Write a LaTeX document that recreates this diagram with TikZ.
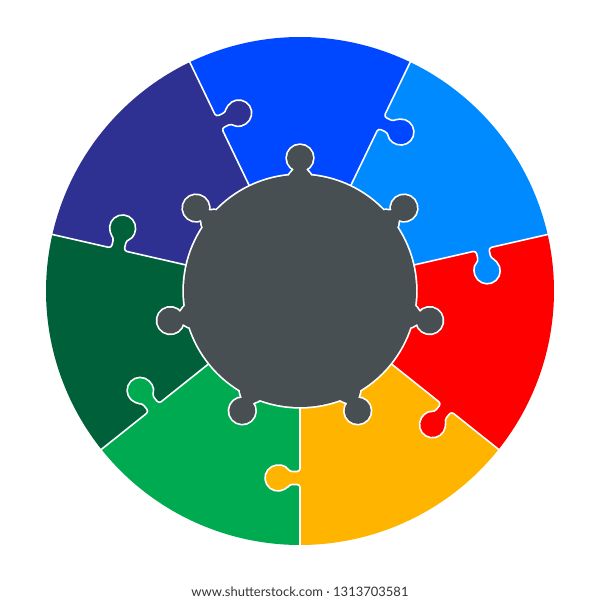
\documentclass[tikz,border=0pt]{standalone}
\usepackage{fontspec}
\setmainfont{Lato}
\usepackage{xcolor}

\definecolor{pzlightblue}{RGB}{0,138,255}
\definecolor{pzblue}{RGB}{0,72,255}
\definecolor{pznavy}{RGB}{46,49,146}
\definecolor{pzdarkgreen}{RGB}{0,96,57}
\definecolor{pzgreen}{RGB}{0,170,80}
\definecolor{pzyellow}{RGB}{255,180,0}
\definecolor{pzred}{RGB}{255,0,0}
\definecolor{hubgray}{RGB}{72,79,83}

\begin{document}
\begin{tikzpicture}[x=1pt,y=1pt,
        tab/.style={rounded corners=3pt},
        seam/.style={draw=white,line width=1.6pt,rounded corners=3pt,line join=round},
        hubrim/.style={draw=white,line width=3.4pt,line join=round},
        hub/.style={fill=hubgray}]

        \useasboundingbox (0,0) rectangle (600,604);
        \coordinate (O) at (300,313);

        % wedges of the ring
        \foreach \a/\col in {12.857/pzlightblue, 64.286/pzblue, 115.714/pznavy,
                167.143/pzdarkgreen, 218.571/pzgreen, 270/pzyellow, 321.429/pzred}
                \fill[\col] (O) -- ++(\a:254) arc[start angle=\a, delta angle=51.43, radius=254] -- cycle;

        % tabs and seams
        \foreach \a/\col in {12.857/pzlightblue, 64.286/pzblue, 115.714/pznavy,
                167.143/pzdarkgreen, 218.571/pzgreen, 270/pzyellow, 321.429/pzred}
        {
                \begin{scope}[shift={(O)},rotate=\a,yscale=-1]
                        \fill[\col,tab] (170,-3) -- (170,0) -- (180.5,0) -- (180.5,10.74)
                                arc[start angle=240, end angle=-60, radius=13]
                                -- (193.5,0) -- (204,0) -- (204,-3) -- cycle;
                        \draw[seam] (100,0) -- (180.5,0) -- (180.5,10.74)
                                arc[start angle=240, end angle=-60, radius=13]
                                -- (193.5,0) -- (258,0);
                \end{scope}
        }

        % hub with its knobs
        \draw[hubrim] (O) circle[radius=116];
        \foreach \m in {38.571, 90, 141.429, 192.857, 244.286, 295.714, 347.143}
        {
                \begin{scope}[shift={(O)},rotate=\m]
                        \draw[hubrim] (108,-12) -- (115.5,-11) .. controls (119,-9.5) and (120,-6) .. (123,-6)
                                -- (123,6) .. controls (120,6) and (119,9.5) .. (115.5,11) -- (108,12) -- cycle;
                        \draw[hubrim] (133,0) circle[radius=13];
                \end{scope}
        }
        \fill[hub] (O) circle[radius=116];
        \foreach \m in {38.571, 90, 141.429, 192.857, 244.286, 295.714, 347.143}
        {
                \begin{scope}[shift={(O)},rotate=\m]
                        \fill[hub] (108,-12) -- (115.5,-11) .. controls (119,-9.5) and (120,-6) .. (123,-6)
                                -- (123,6) .. controls (120,6) and (119,9.5) .. (115.5,11) -- (108,12) -- cycle;
                        \fill[hub] (133,0) circle[radius=13];
                \end{scope}
        }

        \node[text=black!80] (credit) at (300,12) {\fontsize{13}{15}\selectfont www.shutterstock.com · 1313703581};
\end{tikzpicture}
\end{document}
